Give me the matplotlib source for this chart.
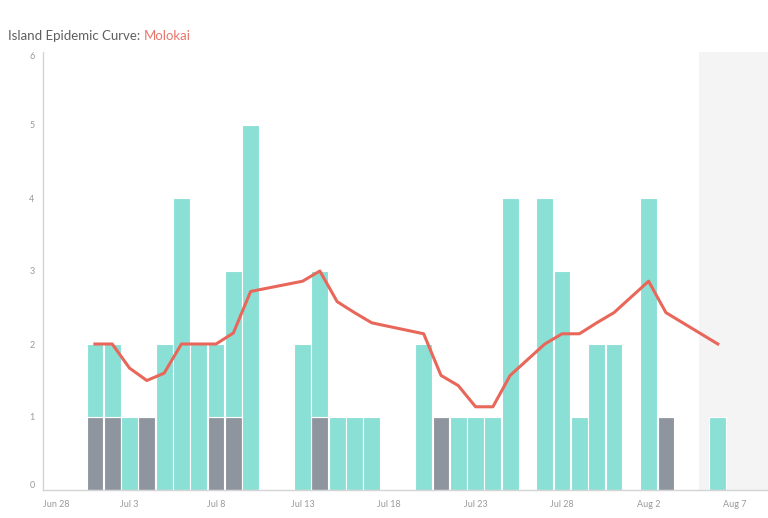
import pandas as pd
import matplotlib
matplotlib.use("Agg")
from matplotlib import pyplot as plt
import matplotlib.dates as mdates

plt.rcParams["font.family"] = ["Lato", "DejaVu Sans"]

# daily cases on Molokai
dates = pd.to_datetime([
    "2020-07-01", "2020-07-02", "2020-07-03", "2020-07-04", "2020-07-05",
    "2020-07-06", "2020-07-07", "2020-07-08", "2020-07-09", "2020-07-10",
    "2020-07-13", "2020-07-14", "2020-07-15", "2020-07-16", "2020-07-17",
    "2020-07-20", "2020-07-21", "2020-07-22", "2020-07-23", "2020-07-24",
    "2020-07-25", "2020-07-27", "2020-07-28", "2020-07-29", "2020-07-30",
    "2020-07-31", "2020-08-02", "2020-08-03", "2020-08-06",
])
gray_cases = [1, 1, 0, 1, 0, 0, 0, 1, 1, 0,
              0, 1, 0, 0, 0,
              0, 1, 0, 0, 0, 0,
              0, 0, 0, 0, 0, 0, 1, 0]
teal_cases = [1, 1, 1, 0, 2, 4, 2, 1, 2, 5,
              2, 2, 1, 1, 1,
              2, 0, 1, 1, 1, 4,
              4, 3, 1, 2, 2, 4, 0, 1]
avg_line = [2.0, 2.0, 1.67, 1.5, 1.6, 2.0, 2.0, 2.0, 2.15, 2.72,
            2.86, 3.0, 2.58, 2.43, 2.29,
            2.14, 1.57, 1.43, 1.14, 1.14, 1.57,
            2.0, 2.14, 2.14, 2.29, 2.43, 2.86, 2.43, 2.0]

tick_dates = pd.to_datetime(["2020-06-28", "2020-07-03", "2020-07-08", "2020-07-13",
                             "2020-07-18", "2020-07-23", "2020-07-28", "2020-08-02",
                             "2020-08-07"])
tick_labels = ["Jun 28", "Jul 3", "Jul 8", "Jul 13", "Jul 18", "Jul 23",
               "Jul 28", "Aug 2", "Aug 7"]

teal = "#8be0d6"
gray = "#8f959f"
red = "#e8675a"

fig = plt.figure(figsize=(7.68, 5.18), dpi=100)
ax = fig.add_axes([43 / 768, 28 / 518, 725 / 768, 438 / 518])

start = pd.Timestamp("2020-06-28")
ax.set_xlim(start + pd.Timedelta(days=0.1), start + pd.Timedelta(days=41.9))
ax.set_ylim(0, 6)

ax.axvspan(start + pd.Timedelta(days=37.9), start + pd.Timedelta(days=42),
           color="#f4f4f4", zorder=0, lw=0)

ax.bar(dates, gray_cases, width=0.97, color=gray, edgecolor="white", linewidth=0.8, zorder=2)
ax.bar(dates, teal_cases, bottom=gray_cases, width=0.97, color=teal,
       edgecolor="white", linewidth=0.8, zorder=2)
ax.plot(dates, avg_line, color=red, linewidth=2.2, zorder=3, solid_joinstyle="round")

for s in ["top", "right"]:
    ax.spines[s].set_visible(False)
for s in ["left", "bottom"]:
    ax.spines[s].set_color("#d4d4d4")
    ax.spines[s].set_linewidth(1)

ax.set_yticks(range(7))
ax.set_yticklabels([str(i) for i in range(7)])
ax.set_xticks(tick_dates)
ax.set_xticklabels(tick_labels)
ax.tick_params(length=0, labelsize=6.5, labelcolor="#9a9a9a")
ax.tick_params(axis="y", pad=6)
ax.tick_params(axis="x", pad=7)
xl = ax.get_xticklabels()
xl[0].set_ha("left")
yl = ax.get_yticklabels()
yl[0].set_va("bottom")
yl[-1].set_va("top")

t1 = fig.text(8 / 768, 1 - 36 / 518, "Island Epidemic Curve: ", fontsize=9.5,
              color="#5f5f5f", va="center", ha="left")
fig.text(0, 0, "", fontsize=1)
ax.annotate("Molokai", xy=(1, 0), xycoords=t1, xytext=(0, 0), textcoords="offset points",
            fontsize=9.5, color="#e8766b", va="bottom", ha="left", annotation_clip=False)

fig.savefig("out.png", dpi=100)
